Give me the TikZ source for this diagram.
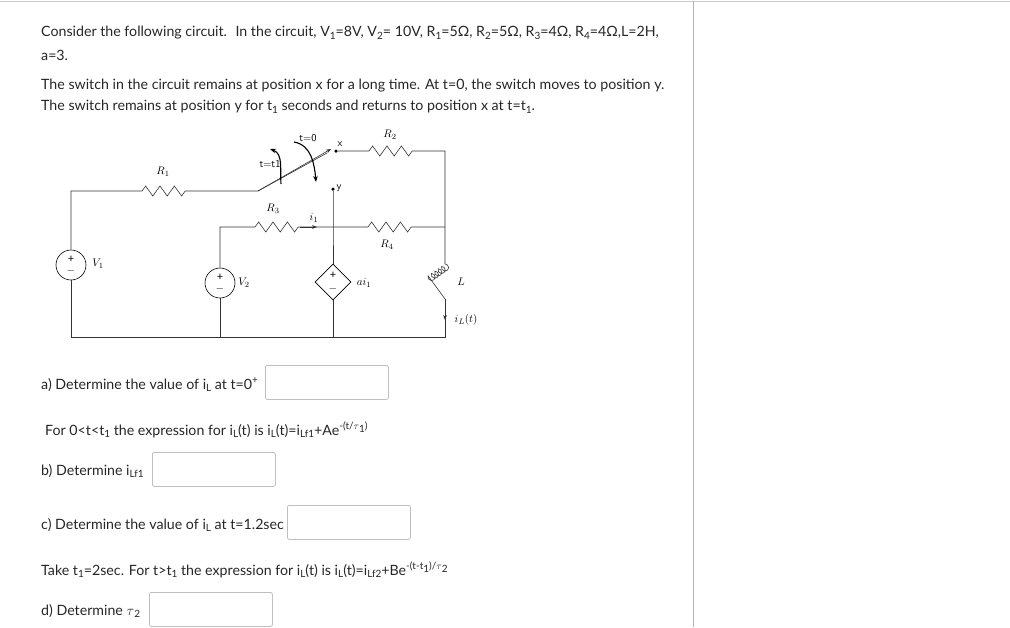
\documentclass[tikz,border=0pt]{standalone}
\usepackage{fontspec}
\setmainfont{Lato}
\usetikzlibrary{decorations.pathmorphing,arrows.meta,shapes.geometric}
\newcommand{\lsub}[1]{\raisebox{-2.5pt}{\fontsize{10}{10}\selectfont #1}}
\newcommand{\lsup}[1]{\raisebox{5.5pt}{\fontsize{10}{10}\selectfont #1}}
\begin{document}
\begin{tikzpicture}[x=1pt,y=-1pt,
  txt/.style={anchor=west,inner sep=0pt,font=\fontsize{14.2}{16}\selectfont,text=black!85},
  ansbox/.style={draw=black!25,rounded corners=2pt,line width=0.8pt,minimum width=123pt,minimum height=34pt,anchor=north west,inner sep=0pt},
  wire/.style={line width=0.6pt,black!80},
  lab/.style={font=\fontsize{11}{11}\selectfont,inner sep=1pt},
  slab/.style={font=\fontsize{10.5}{10}\selectfont\sffamily,inner sep=0pt},
  src/.style={circle,draw,line width=0.6pt,minimum size=30pt,inner sep=0pt},
  dot/.style={circle,fill,inner sep=0pt,minimum size=3.5pt}]
\useasboundingbox (0,0) rectangle (1010,627);
\draw[black!20,line width=0.8pt] (0,1) -- (1010,1);
\draw[black!30,line width=0.8pt] (693,1) -- (693,627);
% texts
\node[txt] (t1) at (41,33) {Consider the following circuit.~ In the circuit, V\lsub{1}=8V, V\lsub{2}= 10V, R\lsub{1}=5Ω, R\lsub{2}=5Ω, R\lsub{3}=4Ω, R\lsub{4}=4Ω,L=2H,};
\node[txt] (t2) at (41,55) {a=3.};
\node[txt] (t3) at (41,86) {The switch in the circuit remains at position x for a long time. At t=0, the switch moves to position y.};
\node[txt] (t4) at (41,107) {The switch remains at position y for t\lsub{1} seconds and returns to position x at t=t\lsub{1}.};
\node[txt] (qa) at (41,385) {a) Determine the value of i\lsub{L} at t=0\lsup{+}};
\node[ansbox] (ba) at (265,365) {};
\node[txt] (qf) at (45,430) {For 0<t<t\lsub{1} the expression for i\lsub{L}(t) is i\lsub{L}(t)=i\lsub{Lf1}+Ae\lsup{-(t/$\tau$\lsub{1})}};
\node[txt] (qb) at (41,471) {b) Determine i\lsub{Lf1}};
\node[ansbox] (bb) at (152,452) {};
\node[txt] (qc) at (41,525) {c) Determine the value of i\lsub{L} at t=1.2sec};
\node[ansbox] (bc) at (287,505) {};
\node[txt] (qt) at (41,570) {Take t\lsub{1}=2sec. For t>t\lsub{1} the expression for i\lsub{L}(t) is i\lsub{L}(t)=i\lsub{Lf2}+Be\lsup{-(t-t\lsub{1})/$\tau$\lsub{2}}};
\node[txt] (qd) at (41,611) {d) Determine $\tau$\lsub{2}};
\node[ansbox] (bd) at (149,592) {};
% circuit coordinates
\coordinate (tl) at (71,191);
\coordinate (bl) at (71,337);
\coordinate (r1a) at (142,191); \coordinate (r1b) at (185,191);
\coordinate (piv) at (258,191);
\node[dot] (cx) at (336,151) {};
\node[dot] (cy) at (333,189) {};
\coordinate (r2a) at (369,151); \coordinate (r2b) at (412,151);
\coordinate (tr) at (445,151);
\coordinate (jr) at (445,227);
\coordinate (la) at (445,264); \coordinate (lb) at (445,299);
\coordinate (br) at (445,337);
\coordinate (j3) at (220,227);
\coordinate (r3a) at (255,227); \coordinate (r3b) at (298,227);
\coordinate (jm) at (333,227);
\coordinate (r4a) at (368,227); \coordinate (r4b) at (411,227);
\coordinate (b2) at (220,337); \coordinate (bm) at (333,337);
\node[src] (v1) at (71,265) {};
\node[src] (v2) at (220,283) {};
\node[diamond,draw,line width=0.6pt,minimum size=36pt,inner sep=0pt] (dep) at (333,282) {};
\foreach \s in {v1,v2}{
  \node[font=\fontsize{11}{11}\selectfont] at ([yshift=6]\s.center) {+};
  \node[font=\fontsize{11}{11}\selectfont] at ([yshift=-6]\s.center) {$-$};}
\node[font=\fontsize{11}{11}\selectfont] at ([yshift=7]dep.center) {+};
\node[font=\fontsize{11}{11}\selectfont] at ([yshift=-7]dep.center) {$-$};
% wires
\tikzset{zz/.style={to path={-- ++(3.6,-5) -- ++(7.2,10) -- ++(7.2,-10) -- ++(7.2,10) -- ++(7.2,-10) -- ++(7.2,10) -- ++(3.6,-5)}}}
\draw[wire] (v1.north) |- (r1a) to[zz] (r1b) -- (piv) -- (327,153);
\draw[wire,-{Stealth[length=5pt]}] (piv) -- (331,149);
\draw[wire] (cx) -- (r2a) to[zz] (r2b) -| (jr) -- (la);
\draw[wire] (la) \foreach \k in {0,1,2,3,4} { arc[start angle=90,end angle=-200,radius=3.6pt] } -- (lb);
\draw[wire] (lb) -- (br) -- (bl) -- (v1.south);
\draw[wire] (v2.north) |- (r3a) to[zz] (r3b) -- (jm) -- (r4a) to[zz] (r4b) -- (jr);
\draw[wire] (cy) -- (jm) -- (dep.north);
\draw[wire] (v2.south) -- (b2);
\draw[wire] (dep.south) -- (bm);
\draw[-{Stealth[length=5pt]},wire] (300,227) -- (317,227);
\draw[-{Stealth[length=5pt]},wire] (445,312) -- (445,320);
% switch arrows
\draw[line width=1.1pt,-{Stealth[length=6pt]}] (281,184) to[out=95,in=-20] (270,149);
\draw[line width=1.1pt,-{Stealth[length=6pt]}] (294,142) to[out=-10,in=95] (316,182);
% labels
\node[lab] at (98,264) {$V_1$};
\node[lab] at (244,283) {$V_2$};
\node[lab] at (163,172) {$R_1$};
\node[lab] at (390,135) {$R_2$};
\node[lab] at (273,209) {$R_3$};
\node[lab] at (387,245) {$R_4$};
\node[lab] at (314,218) {$i_1$};
\node[lab] at (364,283) {$ai_1$};
\node[lab] at (461,282) {$L$};
\node[lab] at (466,320) {$i_L(t)$};
\node[slab] at (308,138) {t=0};
\node[slab] at (340,144) {x};
\node[slab] at (339,188) {y};
\node[slab] at (270,164) {t=t1};
\end{tikzpicture}
\end{document}
